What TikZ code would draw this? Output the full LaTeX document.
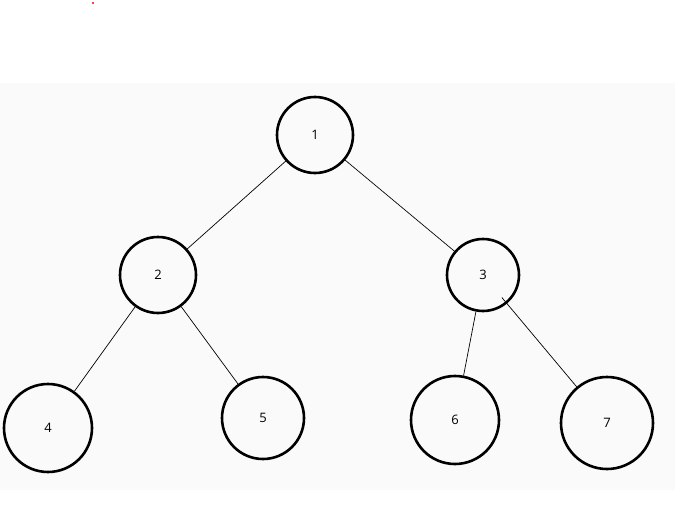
\documentclass[tikz,border=0pt]{standalone}
\usepackage{fontspec}
\setmainfont{Open Sans}
\begin{document}
\begin{tikzpicture}[x=1pt,y=-1pt,
  tnode/.style={circle,draw=black,line width=2.6pt,inner sep=0pt,font=\fontsize{13}{15}\selectfont},
  edge/.style={draw=black,line width=0.7pt}]
\useasboundingbox (0,0) rectangle (680,511);
\fill[black!2] (0,83) rectangle (675,490);
\fill[red] (93,3) circle (1.2);
\node[tnode,minimum size=76pt] (n1) at (315,135) {1};
\node[tnode,minimum size=76pt] (n2) at (158,275) {2};
\node[tnode,minimum size=72pt] (n3) at (483,275) {3};
\node[tnode,minimum size=88pt] (n4) at (48,428) {4};
\node[tnode,minimum size=82pt] (n5) at (263,418) {5};
\node[tnode,minimum size=88pt] (n6) at (455,420) {6};
\node[tnode,minimum size=92pt] (n7) at (607,423) {7};
\draw[edge] (n1) -- (n2);
\draw[edge] (n1) -- (n3);
\draw[edge] (n2) -- (n4);
\draw[edge] (n2) -- (n5);
\draw[edge] (n3) -- (n6);
\draw[edge,shorten <=-8pt] (n3) -- (n7);
\end{tikzpicture}
\end{document}
